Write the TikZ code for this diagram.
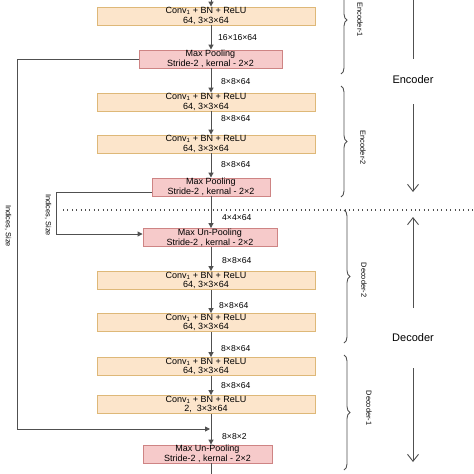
\documentclass[tikz,border=0pt]{standalone}
\usepackage{fontspec}
\setmainfont{Liberation Sans}
\usetikzlibrary{arrows.meta,decorations.pathreplacing}
\definecolor{convfill}{RGB}{252,229,203}
\definecolor{convdraw}{RGB}{222,184,120}
\definecolor{poolfill}{RGB}{246,202,202}
\definecolor{pooldraw}{RGB}{206,132,132}
\definecolor{linegray}{RGB}{80,80,80}
\tikzset{
  convbox/.style={draw=convdraw,fill=convfill,line width=0.9pt,minimum width=218pt,minimum height=18pt,inner sep=0pt,align=center,font=\fontsize{9}{9.8}\selectfont},
  poolbox/.style={draw=pooldraw,fill=poolfill,line width=0.9pt,minimum height=18pt,inner sep=0pt,align=center,font=\fontsize{9}{9.8}\selectfont},
  flow/.style={draw=linegray,line width=1pt,-{Triangle[length=5pt,width=5pt]}},
  skip/.style={draw=linegray,line width=0.9pt,-{Triangle[length=5pt,width=5pt]}},
  plain/.style={draw=linegray,line width=0.9pt},
  dimlabel/.style={anchor=west,inner sep=0pt,font=\fontsize{8.6}{9}\selectfont},
  sidelabel/.style={rotate=-90,inner sep=0pt,font=\fontsize{7.4}{8}\selectfont},
  bigbrace/.style={draw=linegray,line width=0.9pt,decorate,decoration={brace,amplitude=6pt}},
  phase/.style={inner sep=0pt,font=\fontsize{11}{12}\selectfont},
  phasearrow/.style={draw=linegray,line width=0.9pt,-{Straight Barb[length=7pt,width=11pt]}},
}
\begin{document}
\begin{tikzpicture}[x=1pt,y=-1pt]
\useasboundingbox (0,0) rectangle (474,474);
% boxes
\node[convbox] (c1) at (206,16) {Conv\textsubscript{1} + BN + ReLU\\64, 3×3×64};
\node[poolbox,minimum width=143pt] (p1) at (210.5,59) {Max Pooling\\Stride-2 , kernal - 2×2};
\node[convbox] (c2) at (206,102) {Conv\textsubscript{1} + BN + ReLU\\64, 3×3×64};
\node[convbox] (c3) at (206,144) {Conv\textsubscript{1} + BN + ReLU\\64, 3×3×64};
\node[poolbox,minimum width=118pt] (p2) at (211,187) {Max Pooling\\Stride-2 , kernal - 2×2};
\node[poolbox,minimum width=134pt] (u1) at (210,237.5) {Max Un-Pooling\\Stride-2 , kernal - 2×2};
\node[convbox] (c4) at (206,280.5) {Conv\textsubscript{1} + BN + ReLU\\64, 3×3×64};
\node[convbox] (c5) at (206,322.5) {Conv\textsubscript{1} + BN + ReLU\\64, 3×3×64};
\node[convbox] (c6) at (206,366.5) {Conv\textsubscript{1} + BN + ReLU\\64, 3×3×64};
\node[convbox] (c7) at (206,404.5) {Conv\textsubscript{1} + BN + ReLU\\2,\ \ 3×3×64};
\node[poolbox,minimum width=129pt] (u2) at (207.5,454) {Max Un-Pooling\\Stride-2 , kernal - 2×2};
% spine
\coordinate (ax) at (211,0);
\coordinate (bot) at (211,474);
\draw[flow] (ax) -- (ax |- c1.north);
\draw[flow] (ax |- c1.south) -- (ax |- p1.north);
\draw[flow] (ax |- p1.south) -- (ax |- c2.north);
\draw[flow] (ax |- c2.south) -- (ax |- c3.north);
\draw[flow] (ax |- c3.south) -- (ax |- p2.north);
\draw[flow] (ax |- p2.south) -- (ax |- u1.north);
\draw[flow] (ax |- u1.south) -- (ax |- c4.north);
\draw[flow] (ax |- c4.south) -- (ax |- c5.north);
\draw[flow] (ax |- c5.south) -- (ax |- c6.north);
\draw[flow] (ax |- c6.south) -- (ax |- c7.north);
\draw[flow] (ax |- c7.south) -- (ax |- u2.north);
\draw[plain,line width=1pt] (ax |- u2.south) -- (bot);
% dimension labels
\node[dimlabel] (l1) at (218,38) {16×16×64};
\node[dimlabel] (l2) at (221,82) {8×8×64};
\node[dimlabel] (l3) at (221,119) {8×8×64};
\node[dimlabel] (l4) at (221,165) {8×8×64};
\node[dimlabel] (l5) at (222,218) {4×4×64};
\node[dimlabel] (l6) at (222,261) {8×8×64};
\node[dimlabel] (l7) at (219,306) {8×8×64};
\node[dimlabel] (l8) at (221,349) {8×8×64};
\node[dimlabel] (l9) at (221,386) {8×8×64};
\node[dimlabel] (l10) at (222,437) {8×8×2};
% skip connections
\coordinate (o1) at (17,59);
\coordinate (o2) at (17,429);
\coordinate (o3) at (210,429);
\draw[skip] (p1.west) -- (o1) -- (o2) -- (o3);
\coordinate (i1) at (56,192);
\coordinate (i2) at (56,234);
\draw[skip] (p2.west |- i1) -- (i1) -- (i2) -- (u1.west |- i2);
\node[sidelabel] (s1) at (8,226) {Indices, Size};
\node[sidelabel] (s2) at (48,215) {Indices, Size};
% dotted separator
\coordinate (d1) at (63,210);
\coordinate (d2) at (474,210);
\draw[draw=linegray,line width=1.1pt,dash pattern=on 1pt off 3.4pt] (d1) -- (d2);
% braces
\coordinate (b1a) at (341,-34);
\coordinate (b1b) at (341,74);
\coordinate (b2a) at (341,86);
\coordinate (b2b) at (341,197);
\coordinate (b3a) at (344,210);
\coordinate (b3b) at (344,343);
\coordinate (b4a) at (344,355);
\coordinate (b4b) at (344,470);
\draw[bigbrace] (b1a) -- (b1b);
\draw[bigbrace] (b2a) -- (b2b);
\draw[bigbrace] (b3a) -- (b3b);
\draw[bigbrace] (b4a) -- (b4b);
\node[sidelabel] (e1) at (360,20) {Encoder-1};
\node[sidelabel] (e2) at (363,148) {Encoder-2};
\node[sidelabel] (d2l) at (364,280) {Decoder-2};
\node[sidelabel] (d1l) at (369,408) {Decoder-1};
% phase arrows
\coordinate (ea) at (413,0);
\coordinate (eb) at (413,59);
\node[phase] (enc) at (413,80) {Encoder};
\coordinate (ec) at (413,104);
\coordinate (ed) at (413,192);
\draw[plain] (ea) -- (eb);
\draw[phasearrow] (ec) -- (ed);
\coordinate (da) at (413,308);
\coordinate (db) at (413,217);
\node[phase] (dec) at (413,338) {Decoder};
\coordinate (dc) at (413,368);
\coordinate (dd) at (413,462);
\draw[phasearrow] (da) -- (db);
\draw[phasearrow] (dc) -- (dd);
\end{tikzpicture}
\end{document}
